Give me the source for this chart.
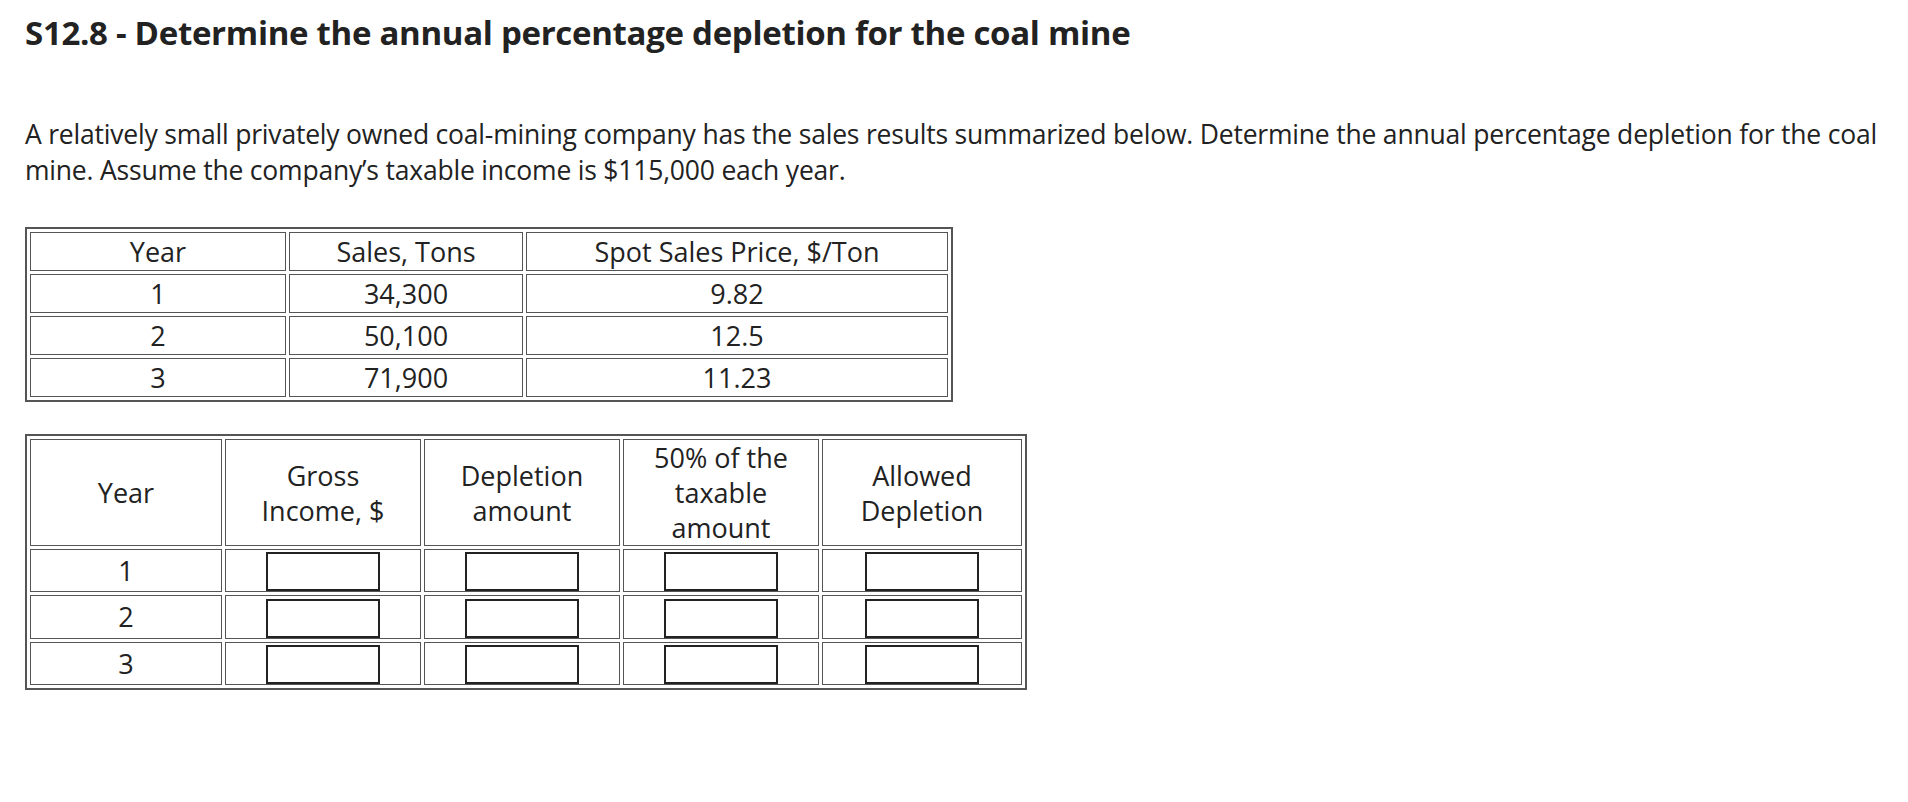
<!DOCTYPE html>
<html><head><meta charset="utf-8">
<script src="https://cdn.jsdelivr.net/npm/chart.js@4"></script>
<style>
body{margin:0;background:#fff;font-family:"Open Sans",Lato,sans-serif;color:#222;}
h1{position:absolute;left:25px;top:10px;margin:0;font-size:33px;font-weight:700;letter-spacing:-0.3px;}
p{position:absolute;left:25px;top:116px;margin:0;font-size:26.5px;line-height:36px;width:1880px;letter-spacing:-0.2px;}
table{position:absolute;border:2px solid #555;border-spacing:3px;border-collapse:separate;}
td{border:1.5px solid #555;text-align:center;font-size:27px;padding:0;}
#t1{left:25px;top:227px;}
#t1 td{height:34px;}
#t2{left:25px;top:434px;}
#t2 td{height:36px;}
#t2 tr:first-child td{height:102px;line-height:35px;}
.box{display:inline-block;width:110px;height:35px;border:2px solid #222;vertical-align:middle;}
</style></head><body>
<h1>S12.8 - Determine the annual percentage depletion for the coal mine</h1>
<p>A relatively small privately owned coal-mining company has the sales results summarized below. Determine the annual percentage depletion for the coal mine. Assume the company’s taxable income is $115,000 each year.</p>
<table id="t1"></table>
<table id="t2"></table>
<script>
const headers1 = ["Year","Sales, Tons","Spot Sales Price, $/Ton"];
const years = ["1","2","3"];
const salesTons = ["34,300","50,100","71,900"];
const spotPrice = ["9.82","12.5","11.23"];
const headers2 = ["Year","Gross<br>Income, $","Depletion<br>amount","50% of the<br>taxable<br>amount","Allowed<br>Depletion"];
const w1=[262,240,428], w2=[198,202,202,202,206];
const t1=document.getElementById('t1');
let h='<tr>'+headers1.map((x,i)=>`<td style="width:${w1[i]-8}px">${x}</td>`).join('')+'</tr>';
years.forEach((y,i)=>{h+=`<tr><td>${y}</td><td>${salesTons[i]}</td><td>${spotPrice[i]}</td></tr>`;});
t1.innerHTML=h;
const t2=document.getElementById('t2');
h='<tr>'+headers2.map((x,i)=>`<td style="width:${w2[i]-8}px">${x}</td>`).join('')+'</tr>';
years.forEach(y=>{h+=`<tr><td>${y}</td>`+'<td><span class="box"></span></td>'.repeat(4)+'</tr>';});
t2.innerHTML=h;
</script>
</body></html>
